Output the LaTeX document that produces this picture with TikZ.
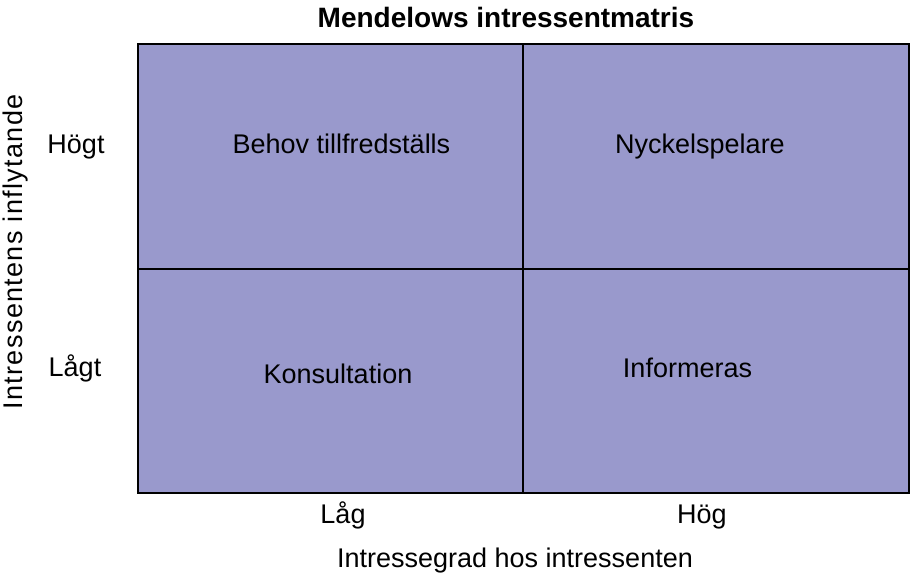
\documentclass[tikz,border=0pt]{standalone}
\usepackage{fontspec}
\setmainfont{Liberation Sans}
\definecolor{cellfill}{RGB}{153,153,204}
\begin{document}
\begin{tikzpicture}[x=1pt,y=-1pt,
  lbl/.style={anchor=base,inner sep=0pt,font=\fontsize{27}{30}\selectfont},
  ttl/.style={anchor=base,inner sep=0pt,font=\fontsize{28}{31}\selectfont\bfseries},
  cell/.style={draw=black,line width=1.1pt,fill=cellfill}]
\useasboundingbox (0,0) rectangle (916,578);
% grid
\coordinate (tl) at (138,44);
\coordinate (br) at (909,493);
\coordinate (mt) at (523,44);
\coordinate (mb) at (523,493);
\coordinate (ml) at (138,269);
\coordinate (mr) at (909,269);
\fill[cellfill] (tl) rectangle (br);
\draw[black,line width=1.1pt] (mt) -- (mb);
\draw[black,line width=1.1pt] (ml) -- (mr);
\draw[black,line width=1.1pt] (tl) rectangle (br);
% texts
\node[ttl] (title) at (506,28) {Mendelows intressentmatris};
\node[lbl] (q1) at (341.5,153) {Behov tillfredställs};
\node[lbl] (q2) at (700,153) {Nyckelspelare};
\node[lbl] (q3) at (338,383) {Konsultation};
\node[lbl] (q4) at (687.5,377) {Informeras};
\node[lbl] (hogt) at (76,153) {Högt};
\node[lbl] (lagt) at (75,376) {Lågt};
\node[lbl] (lag) at (343,523) {Låg};
\node[lbl] (hog) at (702,523) {Hög};
\node[lbl] (xlab) at (515,567) {Intressegrad hos intressenten};
\node[lbl,rotate=90,font=\fontsize{27}{30}\selectfont\addfontfeature{LetterSpace=5}] (ylab) at (22,252) {Intressentens inflytande};
\end{tikzpicture}
\end{document}
